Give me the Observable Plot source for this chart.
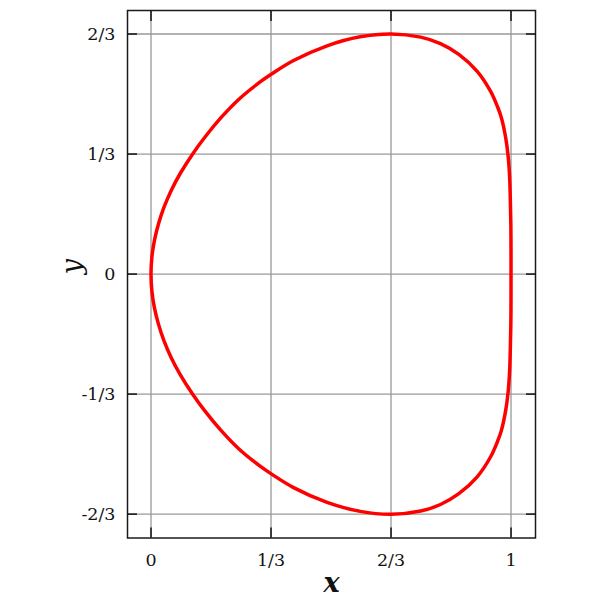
<!DOCTYPE html>
<html><head><meta charset="utf-8">
<script src="https://cdn.jsdelivr.net/npm/d3@7"></script>
<script src="https://cdn.jsdelivr.net/npm/@observablehq/plot@0.6"></script>
<style>body{margin:0;background:#fff}</style>
</head><body><div id="chart"></div>
<script>
// Upper half of the closed curve (from (0,0) over the top to (1,0))
const upperX = [0, 0.0024, 0.0094, 0.0207, 0.0359, 0.0555, 0.0815, 0.1153, 0.1495, 0.195, 0.2435, 0.305, 0.334, 0.396, 0.489, 0.581, 0.667, 0.749, 0.804, 0.855, 0.906, 0.943, 0.962, 0.973, 0.985, 0.992, 0.996, 0.998, 0.9995, 1.0, 1.0];
const upperY = [0, 0.047, 0.093, 0.139, 0.185, 0.231, 0.280, 0.333, 0.380, 0.435, 0.485, 0.535, 0.555, 0.593, 0.634, 0.659, 0.667, 0.658, 0.640, 0.610, 0.563, 0.508, 0.466, 0.435, 0.380, 0.327, 0.272, 0.210, 0.140, 0.060, 0];
// Lower half is the mirror image (read symmetric in the picture)
const lowerY = upperY.map(v => -v);

const xTicks = [0, 1/3, 2/3, 1];
const xTickLabels = ["0", "1/3", "2/3", "1"];
const yTicks = [-2/3, -1/3, 0, 1/3, 2/3];
const yTickLabels = ["-2/3", "-1/3", "0", "1/3", "2/3"];
const xLabel = "x";
const yLabel = "y";

const upper = upperX.map((x, i) => ({x, y: upperY[i]}));
const lower = upperX.map((x, i) => ({x, y: lowerY[i]})).slice(1, -1).reverse();
const loop = upper.concat(lower);

const fmtX = d => xTickLabels[xTicks.indexOf(d)];
const fmtY = d => yTickLabels[yTicks.indexOf(d)];

const chart = Plot.plot({
  width: 600,
  height: 600,
  marginLeft: 127,
  marginRight: 65,
  marginTop: 10,
  marginBottom: 62.5,
  x: {domain: [-0.0653, 1.068]},
  y: {domain: [-0.733, 0.732]},
  style: {fontFamily: "DejaVu Serif", fontSize: "17px", background: "white", color: "#111"},
  marks: [
    Plot.gridX(xTicks, {stroke: "#999", strokeOpacity: 1, strokeWidth: 1.3}),
    Plot.gridY(yTicks, {stroke: "#999", strokeOpacity: 1, strokeWidth: 1.3}),
    Plot.line(loop, {x: "x", y: "y", stroke: "red", strokeWidth: 3.5, curve: "catmull-rom-closed"}),
    Plot.frame({stroke: "#1a1a1a", strokeWidth: 1.5}),
    // inward ticks on all four sides
    Plot.axisX({anchor: "bottom", ticks: xTicks, tickSize: -10, tickFormat: () => "", label: null, strokeWidth: 1.5}),
    Plot.axisX({anchor: "top", ticks: xTicks, tickSize: -10, tickFormat: () => "", label: null, strokeWidth: 1.5}),
    Plot.axisY({anchor: "left", ticks: yTicks, tickSize: -10, tickFormat: () => "", label: null, strokeWidth: 1.5}),
    Plot.axisY({anchor: "right", ticks: yTicks, tickSize: -10, tickFormat: () => "", label: null, strokeWidth: 1.5}),
    // tick labels
    Plot.axisX({anchor: "bottom", ticks: xTicks, tickSize: 0, tickPadding: 16, tickFormat: fmtX, label: null, fontSize: 17.5}),
    Plot.axisY({anchor: "left", ticks: yTicks, tickSize: 0, tickPadding: 12, tickFormat: fmtY, label: null, fontSize: 17.5}),
    // axis titles
    Plot.text([xLabel], {text: d => d, frameAnchor: "bottom", dy: 45, fontSize: 27, fontStyle: "italic", fontWeight: "bold", lineAnchor: "middle"}),
    Plot.text([yLabel], {text: d => d, frameAnchor: "left", dx: -55, rotate: -90, fontSize: 27, fontStyle: "italic", lineAnchor: "middle"})
  ]
});
document.getElementById("chart").appendChild(chart);
</script>
</body></html>
